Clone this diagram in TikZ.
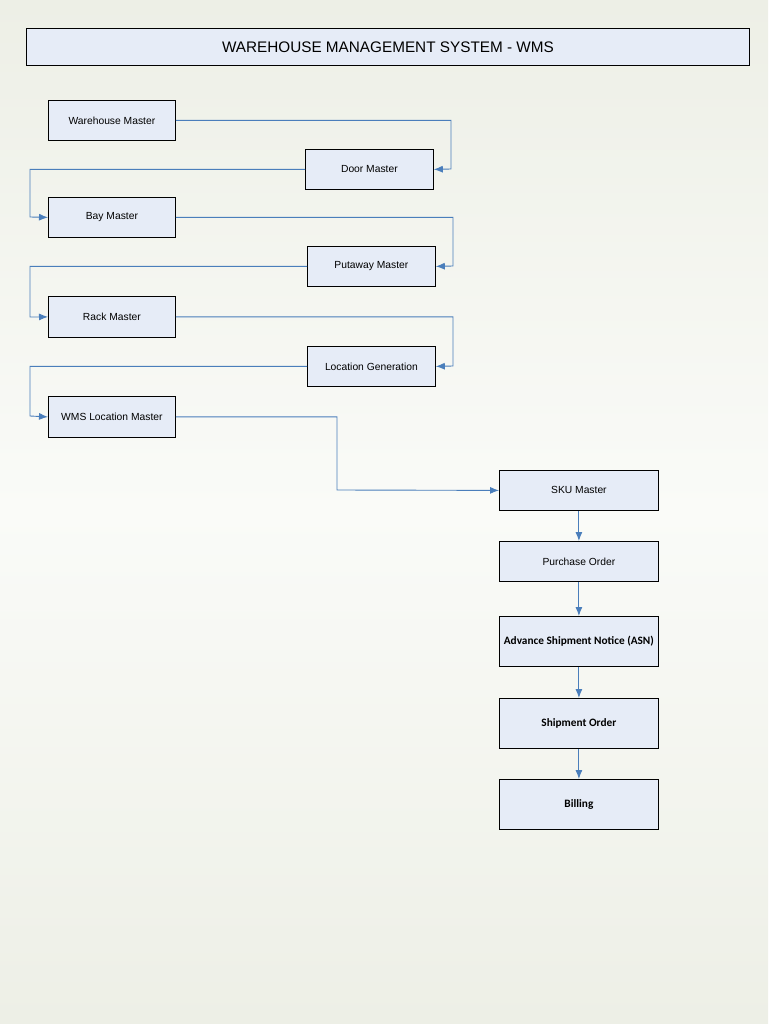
\documentclass[tikz,border=0pt]{standalone}
\usepackage{fontspec}
\setmainfont{Liberation Sans}
\newfontfamily\calib{Carlito}
\usetikzlibrary{arrows.meta}
\definecolor{bgc}{HTML}{EDEFE6}
\definecolor{bgl}{HTML}{FAFBF8}
\definecolor{boxf}{HTML}{E6ECF7}
\definecolor{lnc}{HTML}{4A7EBB}
\tikzset{
 bx/.style={draw=black,fill=boxf,line width=0.8pt,font=\fontsize{10.3}{12}\selectfont,inner sep=0pt},
 bxb/.style={bx,font=\calib\bfseries\fontsize{11.3}{13}\selectfont},
 cn/.style={draw=lnc,line width=0.9pt,-{Latex[length=9pt,width=7pt]}}
}
\begin{document}
\begin{tikzpicture}[x=1pt,y=-1pt]
\useasboundingbox (0,0) rectangle (768,1024);
\shade[top color=bgc,bottom color=bgc,middle color=bgl] (0,0) rectangle (768,1024);
\node[draw=black,fill=boxf,line width=0.8pt,minimum width=723,minimum height=37,anchor=north west,font=\fontsize{15.3}{17}\selectfont] (t) at (26,28) {WAREHOUSE MANAGEMENT SYSTEM - WMS};
\def\B#1#2#3#4#5#6{\node[#6,minimum width=#3,minimum height=#4,anchor=north west] (#1) at #2 {#5};}
\B{wm}{(48,100)}{127}{40}{Warehouse Master}{bx}
\B{dm}{(305,149)}{128}{40}{Door Master}{bx}
\B{bm}{(48,197)}{127}{40}{Bay Master}{bx}
\B{pm}{(307,246)}{128}{40}{Putaway Master}{bx}
\B{rm}{(48,296)}{127}{41}{Rack Master}{bx}
\B{lg}{(307,346)}{128}{40}{Location Generation}{bx}
\B{wl}{(48,396)}{127}{41}{WMS Location Master}{bx}
\B{sku}{(499,470)}{159}{40}{SKU Master}{bx}
\B{po}{(499,541)}{159}{40}{Purchase Order}{bx}
\B{asn}{(499,616)}{159}{50}{Advance Shipment Notice (ASN)}{bxb}
\B{so}{(499,698)}{159}{50}{Shipment Order}{bxb}
\B{bil}{(499,779)}{159}{50}{Billing}{bxb}
\draw[cn] (wm.east) -| (451,169) -- (dm.east);
\draw[cn] (dm.west) -| (30,217) -- (bm.west);
\draw[cn] (bm.east) -| (453,266) -- (pm.east);
\draw[cn] (pm.west) -| (30,317) -- (rm.west);
\draw[cn] (rm.east) -| (453,366) -- (lg.east);
\draw[cn] (lg.west) -| (30,416) -- (wl.west);
\draw[cn] (wl.east) -| (337,490) -- (sku.west);
\draw[cn] (sku) -- (po);
\draw[cn] (po) -- (asn);
\draw[cn] (asn) -- (so);
\draw[cn] (so) -- (bil);
\end{tikzpicture}
\end{document}
